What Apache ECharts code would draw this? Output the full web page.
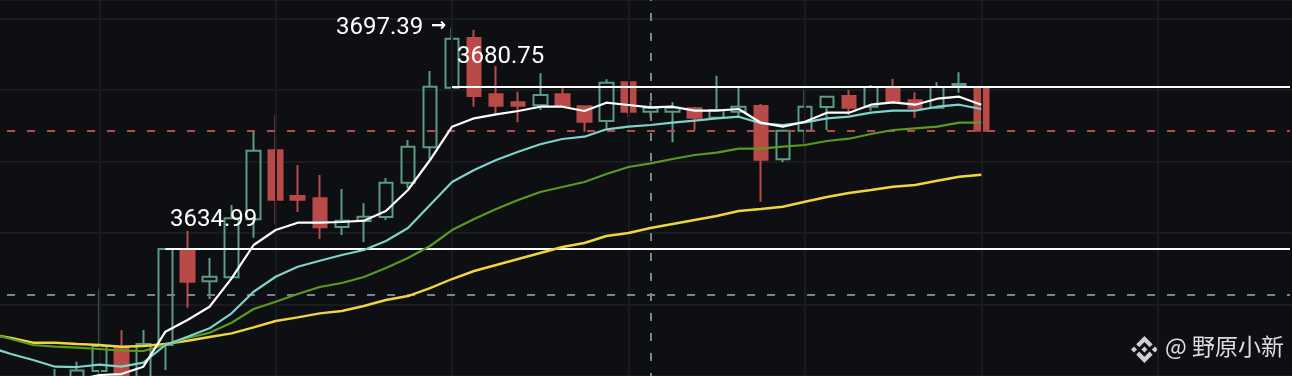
<!DOCTYPE html>
<html lang="en">
	<head>
		<meta charset="UTF-8">
		<title>candles</title>
		<style>
			html, body { margin: 0; padding: 0; background: #0d0f12; }
			#echarts { width: 1292px; height: 376px; }
		</style>
	</head>
	<body>
		<div id="echarts"></div>
		<script src="https://cdn.jsdelivr.net/npm/echarts@6/dist/echarts.min.js"></script>
		<script>
			// first slot is an off-screen bar so the averages run in from the left edge
			var slotCount = 60
			var gridSlots = [5, 13, 21, 29, 37, 45, 53]
			var crossSlot = 30

			var opens = [null, null, null,
				3595.52, 3597.48, 3601.39, 3608.11, 3597.48, 3608.67, 3635.52, 3626.48, 3627.60, 3643.83,
				3663.13, 3650.34, 3649.70, 3641.67, 3643.35, 3644.47, 3654.07, 3663.97, 3680.64, 3694.54,
				3678.79, 3676.55, 3675.72, 3678.79, 3675.44, 3671.32, 3682.15, 3673.93, 3673.93, 3674.88,
				3672.25, 3673.93, 3675.52, 3660.61, 3668.61, 3675.24, 3678.32, 3675.32, 3680.55, 3677.11,
				3675.04, 3681.11, 3680.83]
			var closes = [null, null, null,
				3598.88, 3601.53, 3608.39, 3597.48, 3608.95, 3635.52, 3626.37, 3627.77, 3644.11, 3663.02,
				3649.31, 3649.31, 3641.59, 3643.44, 3644.55, 3654.07, 3664.14, 3680.92, 3694.34, 3678.32,
				3675.60, 3675.60, 3678.60, 3675.52, 3671.13, 3682.04, 3673.93, 3674.96, 3675.04, 3672.25,
				3674.40, 3675.32, 3660.50, 3668.61, 3675.32, 3678.12, 3675.04, 3680.83, 3676.55, 3675.04,
				3680.83, 3681.67, 3668.61]
			var lows = [null, null, null,
				3594.40, 3595.52, 3599.44, 3595.52, 3596.08, 3601.67, 3619.10, 3621.53, 3627.41, 3638.68,
				3642.51, 3645.87, 3638.32, 3639.44, 3637.48, 3643.63, 3652.58, 3660.69, 3680.41, 3675.32,
				3673.20, 3670.96, 3674.40, 3675.24, 3668.33, 3669.28, 3672.36, 3672.16, 3665.37, 3668.81,
				3672.02, 3672.53, 3648.75, 3659.77, 3664.61, 3668.81, 3673.00, 3674.21, 3676.36, 3672.25,
				3674.68, 3679.24, 3668.53]
			var highs = [null, null, null,
				3601.95, 3604.00, 3624.41, 3612.86, 3612.86, 3635.80, 3640.55, 3633.00, 3647.83, 3668.33,
				3673.00, 3659.02, 3656.22, 3652.30, 3648.30, 3655.38, 3666.01, 3685.31, 3697.39, 3696.78,
				3686.71, 3679.52, 3684.67, 3680.47, 3675.72, 3682.99, 3682.23, 3676.72, 3676.55, 3675.32,
				3684.00, 3680.64, 3676.08, 3668.81, 3680.00, 3678.32, 3680.00, 3681.39, 3683.07, 3679.35,
				3682.15, 3684.95, 3681.39]

			var maWhite = [null, null, null, null,
				3598.88, 3600.27, 3600.55, 3602.60, 3612.39, 3615.66, 3619.38, 3627.32, 3636.64, 3640.83,
				3642.88, 3642.88, 3643.07, 3643.44, 3646.15, 3652.02, 3660.41, 3669.73, 3672.08, 3673.20,
				3674.12, 3675.32, 3675.32, 3674.12, 3676.44, 3675.80, 3675.16, 3675.32, 3674.21, 3674.21,
				3674.68, 3670.85, 3669.73, 3671.13, 3673.65, 3673.65, 3675.88, 3676.55, 3675.88, 3677.56,
				3678.12, 3675.88]
			var maCyan = [3608.11, 3606.15, 3604.47, 3602.60, 3602.51, 3603.16, 3602.60, 3603.72, 3608.67,
				3610.99, 3613.34, 3617.53, 3623.57, 3627.77, 3630.57, 3632.25, 3633.84, 3635.24, 3637.76,
				3641.39, 3647.83, 3654.26, 3657.62, 3660.41, 3662.74, 3664.81, 3666.29, 3666.93, 3669.00,
				3669.73, 3670.20, 3670.85, 3671.41, 3672.08, 3672.53, 3670.68, 3670.20, 3670.96, 3672.08,
				3672.53, 3673.65, 3674.21, 3674.21, 3675.32, 3675.88, 3674.68]
			var maGreen = [3612.02, 3610.34, 3608.67, 3608.19, 3607.91, 3607.55, 3607.07, 3606.99, 3608.67,
				3610.62, 3612.11, 3614.90, 3618.74, 3620.78, 3622.93, 3624.89, 3626.01, 3627.69, 3630.21,
				3633.00, 3636.36, 3640.83, 3643.91, 3646.71, 3649.23, 3651.46, 3652.86, 3654.26, 3656.50,
				3658.46, 3659.49, 3660.69, 3661.81, 3662.46, 3663.58, 3663.58, 3664.14, 3664.61, 3665.73,
				3666.37, 3667.69, 3668.81, 3669.28, 3669.73, 3670.85, 3670.85]
			var maYellow = [3611.74, 3610.62, 3609.31, 3609.31, 3608.95, 3608.67, 3608.19, 3608.39, 3608.95,
				3609.87, 3610.90, 3611.94, 3613.62, 3615.38, 3616.41, 3617.53, 3618.18, 3619.58, 3621.25,
				3622.37, 3624.61, 3627.13, 3629.37, 3631.04, 3632.72, 3634.40, 3636.08, 3637.20, 3639.16,
				3640.00, 3641.39, 3642.51, 3643.63, 3644.75, 3646.15, 3646.71, 3647.35, 3648.75, 3650.07,
				3651.18, 3652.02, 3652.95, 3653.42, 3654.62, 3655.74, 3656.30]

			var levelUpper = 3680.83
			var levelUpperFrom = 21
			var levelLower = 3635.52
			var levelLowerFrom = 8
			var dashGrey = 3622.65
			var dashRed = 3668.53

			var yMin = 3600
			var yMax = 3705.17
			var yInterval = 20

			var categories = []
			for (var c = 0; c < slotCount; c++) {
				categories.push('k' + c)
			}

			var candles = opens.map(function (open, i) {
				if (open === null) {
					return ['-', '-', '-', '-']
				}
				return [open, closes[i], lows[i], highs[i]]
			})

			function lineSeries(values, color, width) {
				return {
					type: 'line',
					data: values,
					symbol: 'none',
					smooth: false,
					z: 5,
					lineStyle: { color: color, width: width }
				}
			}

			function hLine(value, fromSlot, style) {
				return [
					{ xAxis: categories[fromSlot], yAxis: value, lineStyle: style },
					{ xAxis: categories[slotCount - 1], yAxis: value }
				]
			}

			// binance mark, drawn on a 32 unit square
			function logoPiece(points) {
				return { type: 'polygon', shape: { points: points }, style: { fill: '#d0d0d0' } }
			}

			var myChart = echarts.init(document.getElementById('echarts'))
			var option = {
				backgroundColor: '#0d0f12',
				animation: false,
				grid: { left: -22, top: 0, width: 1323, height: 376, outerBoundsMode: 'none' },
				xAxis: {
					type: 'category',
					data: categories,
					show: false
				},
				yAxis: {
					type: 'value',
					min: yMin,
					max: yMax,
					interval: yInterval,
					axisLine: { show: false },
					axisTick: { show: false },
					axisLabel: { show: false },
					splitLine: { lineStyle: { color: '#191b1f', width: 2 } }
				},
				series: [
					{
						// vertical grid lines, behind the candles
						type: 'line',
						data: [],
						z: 1,
						silent: true,
						markLine: {
							silent: true,
							symbol: 'none',
							animation: false,
							label: { show: false },
							lineStyle: { color: '#191b1f', width: 2, type: 'solid' },
							data: gridSlots.map(function (s) {
								return { xAxis: categories[s] }
							})
						}
					},
					{
						type: 'candlestick',
						data: candles,
						barWidth: 14,
						z: 2,
						itemStyle: {
							color: 'transparent',
							color0: '#b94a48',
							borderColor: '#5b9c83',
							borderColor0: '#b94a48',
							borderWidth: 2
						}
					},
					lineSeries(maYellow, '#f0d63c', 2.4),
					lineSeries(maGreen, '#5a9a20', 2.2),
					lineSeries(maCyan, '#7fd3cb', 2.2),
					lineSeries(maWhite, '#ffffff', 2.2),
					{
						type: 'line',
						data: [],
						z: 6,
						silent: true,
						markLine: {
							silent: true,
							symbol: 'none',
							animation: false,
							label: { show: false },
							data: [
								hLine(levelUpper, levelUpperFrom, { color: '#ffffff', width: 2, type: 'solid' }),
								hLine(levelLower, levelLowerFrom, { color: '#ffffff', width: 2, type: 'solid' }),
								hLine(dashGrey, 0, { color: '#7d8290', width: 2, type: [8, 12], dashOffset: 2 }),
								hLine(dashRed, 0, { color: '#b94a48', width: 2, type: [8, 12], dashOffset: 2 }),
								[
									{ xAxis: categories[crossSlot], yAxis: yMax, lineStyle: { color: '#7d8290', width: 2, type: [8, 12], dashOffset: 7 } },
									{ xAxis: categories[crossSlot], yAxis: yMin }
								]
							]
						}
					}
				],
				graphic: [
					{ type: 'text', left: 170, top: 208, z: 20, style: { text: '3634.99', fill: '#fff', font: '24px Roboto' } },
					{ type: 'text', left: 336, top: 16, z: 20, style: { text: '3697.39', fill: '#fff', font: '24px Roboto' } },
					{ type: 'text', left: 431, top: 17, z: 20, style: { text: '\u2192', fill: '#fff', font: 'bold 18px "DejaVu Sans"' } },
					{ type: 'text', left: 457, top: 45, z: 20, style: { text: '3680.75', fill: '#fff', font: '24px Roboto' } },
					{
						type: 'group',
						x: 1131,
						y: 336,
						scaleX: 0.84,
						scaleY: 0.84,
						z: 20,
						children: [
							logoPiece([[9.8, 13.4], [16, 7.2], [22.2, 13.4], [25.8, 9.8], [16, 0], [6.2, 9.8]]),
							logoPiece([[0, 16], [3.6, 12.4], [7.2, 16], [3.6, 19.6]]),
							logoPiece([[9.8, 18.6], [16, 24.8], [22.2, 18.6], [25.8, 22.2], [16, 32], [6.2, 22.2]]),
							logoPiece([[24.8, 16], [28.4, 12.4], [32, 16], [28.4, 19.6]]),
							logoPiece([[19.6, 16], [16, 12.4], [12.4, 16], [16, 19.6]])
						]
					},
					{ type: 'text', left: 1165, top: 335, z: 20, style: { text: '@ \u91ce\u539f\u5c0f\u65b0', fill: '#dedede', font: '23px "Noto Sans CJK SC"' } }
				]
			}

			myChart.setOption(option, true)
		</script>
	</body>
</html>
